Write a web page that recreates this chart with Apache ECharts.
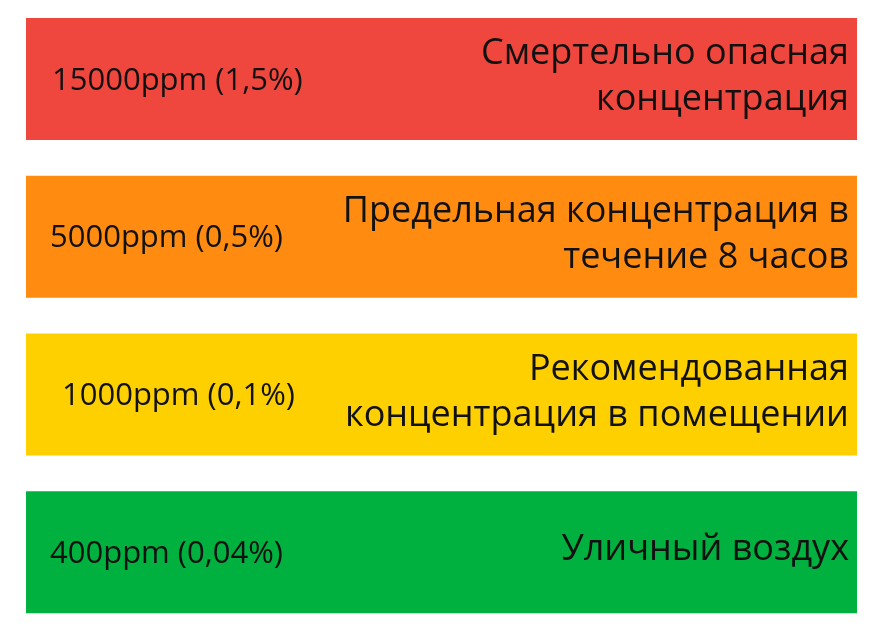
<!DOCTYPE html>
<html><head><meta charset="utf-8">
<script src="https://cdn.jsdelivr.net/npm/echarts@6/dist/echarts.min.js"></script>
<style>html,body{margin:0;padding:0;background:#fff}#c{width:877px;height:631px}</style>
</head><body><div id="c"></div>
<script>
const levels = ['15000ppm (1,5%)','5000ppm (0,5%)','1000ppm (0,1%)','400ppm (0,04%)'];
const descriptions = ['Смертельно опасная\nконцентрация','Предельная концентрация в\nтечение 8 часов','Рекомендованная\nконцентрация в помещении','Уличный воздух'];
const values = [1,1,1,1];
const colors = ['#EF473E','#FF8C10','#FFD000','#00B140'];
const leftShift = [21,19,31,19];

const chart = echarts.init(document.getElementById('c'));
chart.setOption({
  animation:false,
  grid:{left:26,right:20,top:-3,bottom:0},
  xAxis:{type:'value',min:0,max:1,show:false},
  yAxis:{type:'category',data:levels,inverse:true,show:false},
  series:[
    {type:'bar',barWidth:122,
     data:values.map((v,i)=>({value:v,itemStyle:{color:colors[i]},
       label:{show:true,position:'insideLeft',offset:[leftShift[i],2],formatter:levels[i],
         color:'#111',fontSize:31,fontFamily:'Open Sans'}}))},
    {type:'bar',barWidth:122,barGap:'-100%',
     data:values.map((v,i)=>({value:v,itemStyle:{color:'transparent'},
       label:{show:true,position:'insideRight',distance:8,offset:[0,-2],formatter:descriptions[i],align:'right',
         color:'#111',fontSize:36,lineHeight:46,fontFamily:'Open Sans'}}))}
  ]
});
</script></body></html>
